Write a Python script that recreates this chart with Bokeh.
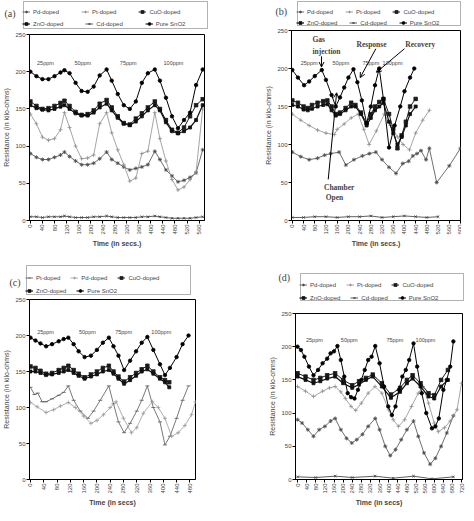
import math

from bokeh.plotting import figure
from bokeh.layouts import row, column
from bokeh.models import (Range1d, FixedTicker, Legend, LegendItem, Label,
                          Arrow, OpenHead, ColumnDataSource, BoxAnnotation)
from bokeh.embed import file_html
from bokeh.resources import INLINE

FONT = "Liberation Sans"
SERIF = "Liberation Serif"

# ---- shared ----
Y_TICKS = [0, 50, 100, 150, 200, 250]
PPM_LABELS = ["25ppm", "50ppm", "75ppm", "100ppm"]
Y_LABEL = "Resistance (in kilo-ohms)"

# ---- panel (a) ----
A_XTICKS = [0, 40, 80, 120, 160, 200, 240, 280, 320, 360, 400, 440, 480, 520, 560]
A_T = [0, 20, 40, 60, 80, 100, 113, 130, 150, 170, 190, 210, 230, 253, 270,
       290, 310, 330, 350, 370, 390, 413, 430, 450, 470, 490, 510, 530, 550, 572]
A_SNO2 = [200, 194, 190, 190, 194, 199, 202, 198, 185, 174, 173, 180, 195, 203, 188,
          170, 155, 150, 160, 185, 198, 203, 188, 165, 140, 124, 135, 145, 182, 203]
A_ZNO = [155, 151, 149, 148, 150, 153, 155, 150, 144, 141, 141, 145, 152, 157, 148,
         138, 130, 128, 133, 140, 148, 155, 148, 132, 120, 117, 120, 125, 135, 155]
A_CUO = [160, 154, 150, 151, 154, 158, 161, 154, 146, 142, 143, 148, 157, 162, 152,
         140, 131, 129, 137, 144, 152, 160, 150, 135, 122, 118, 125, 140, 155, 163]
A_PT = [143, 130, 112, 108, 110, 122, 145, 125, 100, 83, 84, 88, 130, 145, 118,
        95, 75, 53, 57, 90, 93, 145, 110, 80, 55, 41, 45, 55, 65, 150]
A_PD = [90, 85, 82, 82, 85, 88, 92, 86, 80, 75, 75, 77, 83, 92, 82,
        77, 72, 68, 70, 72, 75, 93, 82, 68, 60, 52, 54, 58, 64, 95]
A_CD = [5, 5, 4, 5, 5, 5, 6, 5, 4, 4, 4, 5, 5, 6, 5,
        4, 4, 4, 4, 5, 5, 6, 5, 4, 3, 3, 3, 3, 4, 5]

# ---- panel (b) ----
B_XTICKS = [0, 40, 80, 120, 160, 200, 240, 280, 320, 360, 400, 440, 480, 520, 560, 600]
B_SNO2_T = [0, 20, 42, 60, 80, 105, 120, 140, 155, 170, 185, 200, 218, 232, 248,
            265, 280, 295, 310, 325, 345, 365, 385, 400, 420, 435]
B_SNO2 = [198, 188, 178, 183, 190, 198, 185, 165, 150, 162, 175, 188, 199, 182, 158,
          128, 150, 178, 200, 160, 96, 125, 150, 170, 188, 200]
B_CL_T = [0, 20, 40, 55, 70, 90, 110, 125, 140, 155, 170, 190, 210, 225, 245,
          265, 280, 295, 310, 325, 345, 360, 375, 390, 405, 420, 440]
B_ZNO = [152, 150, 146, 145, 147, 150, 152, 153, 145, 138, 140, 145, 150, 150, 140,
         125, 135, 145, 150, 155, 130, 115, 100, 110, 125, 140, 150]
B_CUO = [158, 155, 150, 148, 152, 155, 157, 158, 150, 140, 142, 148, 155, 152, 142,
         128, 140, 150, 156, 160, 140, 120, 95, 112, 130, 150, 160]
B_PT_T = [0, 30, 60, 90, 120, 150, 160, 185, 210, 235, 255, 274, 300, 328, 350,
          375, 395, 418, 440, 465, 489]
B_PT = [140, 132, 125, 119, 115, 113, 120, 127, 135, 140, 120, 100, 118, 140, 125,
        110, 100, 93, 115, 132, 145]
B_PD_T = [0, 30, 60, 90, 115, 137, 167, 191, 220, 250, 275, 298, 320, 345, 370,
          394, 415, 430, 445, 459, 477, 489, 515, 560, 600]
B_PD = [90, 84, 80, 82, 86, 88, 90, 73, 80, 85, 88, 90, 80, 70, 62,
        75, 78, 85, 88, 92, 80, 95, 50, 72, 95]
B_CD_T = [0, 40, 80, 120, 160, 200, 240, 280, 320, 360, 400, 440, 480, 520]
B_CD = [4, 4, 5, 5, 4, 5, 5, 6, 4, 5, 6, 5, 4, 5]

# ---- panel (c) ----
C_XTICKS = [0, 40, 80, 120, 160, 200, 240, 280, 320, 360, 400, 440, 480]
C_T = [0, 15, 30, 47, 65, 85, 100, 114, 130, 145, 163, 182, 200, 218, 236,
       250, 265, 282, 300, 318, 335, 352, 370, 390, 405, 420, 440, 458, 476]
C_SNO2 = [197, 193, 189, 185, 188, 192, 195, 197, 188, 178, 170, 172, 180, 190, 197,
          185, 172, 152, 165, 178, 190, 198, 180, 160, 145, 155, 170, 188, 200]
C_CL_T = [0, 15, 30, 47, 65, 85, 100, 114, 130, 145, 163, 182, 200, 218, 236,
          250, 265, 282, 300, 318, 335, 352, 370, 390, 405, 418]
C_ZNO = [150, 150, 148, 145, 146, 148, 150, 152, 148, 144, 140, 143, 146, 150, 152,
         147, 140, 133, 138, 144, 150, 153, 147, 140, 135, 128]
C_CUO = [157, 155, 151, 147, 148, 152, 155, 158, 152, 147, 142, 146, 150, 155, 158,
         150, 143, 136, 142, 148, 153, 158, 150, 142, 138, 135]
C_PT_T = [0, 12, 22, 35, 47, 65, 85, 100, 114, 130, 150, 173, 190, 210, 236,
          250, 265, 282, 300, 320, 335, 352, 370, 390, 405, 420, 440, 458, 476]
C_PT = [128, 118, 120, 108, 108, 112, 117, 121, 130, 110, 95, 85, 95, 110, 130,
        105, 80, 65, 78, 95, 110, 130, 100, 80, 48, 60, 85, 110, 130]
C_PD_T = [0, 20, 47, 70, 90, 114, 135, 160, 182, 200, 220, 240, 258, 280, 304,
          320, 340, 367, 385, 405, 425, 445, 465, 485, 497]
C_PD = [107, 101, 93, 97, 102, 107, 100, 88, 78, 82, 90, 100, 108, 85, 65,
        72, 92, 108, 100, 85, 60, 65, 75, 90, 108]

# ---- panel (d) ----
D_XTICKS = [0, 40, 80, 120, 160, 200, 240, 280, 320, 360, 400, 440, 480, 520,
            560, 600, 640, 680, 720]
D_SNO2_T = [0, 15, 30, 50, 70, 90, 110, 130, 145, 160, 175, 190, 205, 220, 235,
            250, 265, 280, 295, 310, 325, 341, 360, 380, 398, 414, 430, 445, 460,
            475, 490, 509, 525, 545, 565, 590, 605, 620, 640, 655, 670, 684]
D_SNO2 = [200, 195, 185, 170, 157, 165, 175, 182, 190, 193, 201, 180, 155, 130, 124,
          122, 135, 150, 165, 180, 185, 201, 175, 140, 110, 97, 110, 135, 155,
          165, 180, 205, 170, 130, 100, 77, 80, 92, 135, 150, 170, 208]
D_CL_T = [0, 35, 70, 100, 130, 165, 200, 240, 270, 300, 330, 370, 410, 450, 480,
          505, 540, 575, 600, 630, 660]
D_ZNO = [155, 150, 145, 148, 152, 155, 145, 138, 143, 150, 155, 140, 123, 132, 145,
         152, 140, 125, 122, 140, 150]
D_CUO = [160, 155, 150, 153, 157, 160, 150, 142, 148, 153, 158, 145, 128, 138, 150,
         157, 145, 130, 127, 150, 165]
D_PT_T = [0, 35, 70, 110, 140, 165, 190, 210, 235, 255, 280, 310, 340, 370, 400,
          420, 443, 470, 500, 530, 550, 575, 600, 618, 645, 670, 700, 720]
D_PT = [140, 133, 125, 133, 138, 140, 132, 122, 110, 104, 115, 130, 140, 130, 105,
        90, 80, 90, 110, 130, 140, 115, 85, 72, 78, 88, 105, 145]
D_PD_T = [0, 20, 45, 70, 95, 120, 145, 165, 190, 215, 238, 260, 285, 310, 341,
          360, 385, 407, 430, 455, 480, 509, 530, 555, 582, 605, 630, 655, 684]
D_PD = [90, 85, 75, 65, 75, 80, 88, 92, 75, 62, 55, 60, 68, 80, 92,
        75, 50, 36, 45, 60, 75, 88, 65, 40, 23, 32, 50, 70, 96]
D_CD_T = [0, 80, 165, 240, 340, 420, 509, 590, 684]
D_CD = [4, 3, 5, 3, 5, 2, 5, 1, 4]

# color, marker, size, line width
STYLE = {
    "Pd-doped": ("#4a4a4a", "asterisk", 4, 0.8),
    "Pt-doped": ("#8e8e8e", "cross", 4, 0.8),
    "CuO-doped": ("#1a1a1a", "square_x", 3.5, 1.0),
    "ZnO-doped": ("#101010", "square", 3, 1.2),
    "Cd-doped": ("#333333", "x", 3.5, 0.8),
    "Pure SnO2": ("#000000", "circle", 3.5, 1.0),
}
STYLE_C = dict(STYLE)
STYLE_C["Pt-doped"] = ("#555555", "dash", 4, 0.8)
STYLE_C["Pd-doped"] = ("#9a9a9a", "cross", 4, 0.8)

HX = HY = -2000  # legend strips use a pixel-sized window far away from the data


def bare_fig(width, height, x0, y0):
    f = figure(width=width, height=height, x_range=Range1d(x0, x0 + width),
               y_range=Range1d(y0, y0 + height), min_border=0,
               x_axis_type=None, y_axis_type=None,
               output_backend="svg", toolbar_location=None)
    f.grid.visible = False
    f.outline_line_color = None
    return f


def draw_series(p, label, src, style):
    color, marker, size, lw = style[label]
    ln = p.line("t", "v", source=src, line_color=color, line_width=lw)
    sc = p.scatter("t", "v", source=src, marker=marker, size=size,
                   line_color=color, fill_color=color, line_width=0.8)
    return ln, sc


def make_header(tag, tag_w, leg_w, height, sources, rows_y, spacing, box, tag_xy,
                style=STYLE):
    # panel letter on the left, boxed two-row legend on the right
    t = bare_fig(tag_w, height, 0, 0)
    t.add_layout(Label(x=tag_xy[0], y=tag_xy[1], text=tag, text_font=SERIF,
                       text_font_size="10px", text_baseline="middle"))

    h = bare_fig(leg_w, height, HX, HY)
    items = []
    for label, src in sources:
        ln, sc = draw_series(h, label, src, style)
        items.append(LegendItem(label=label, renderers=[ln, sc]))
    for i, y in enumerate(rows_y):
        h.add_layout(Legend(items=items[i * 3:i * 3 + 3], orientation="horizontal",
                            location=(0, y), margin=0,
                            label_text_font=FONT, label_text_font_size="6px",
                            glyph_width=8, glyph_height=7, label_height=7,
                            label_standoff=3, spacing=spacing, padding=4,
                            border_line_color=None, background_fill_alpha=0))
    left, right, bottom, top = box
    h.add_layout(BoxAnnotation(left=HX + left, right=HX + right, bottom=HY + bottom,
                               top=HY + top, fill_alpha=0, line_color="black",
                               line_width=1))
    return row(t, h)


def make_panel(xr, xticks, xlabel, fw, fh, ml, mr, mt, mb, sources,
               ppm_x, ppm_y, style=STYLE):
    p = figure(frame_width=fw, frame_height=fh,
               x_range=Range1d(*xr), y_range=Range1d(0, 250),
               min_border_left=ml, min_border_right=mr,
               min_border_top=mt, min_border_bottom=mb,
               output_backend="svg", toolbar_location=None)
    p.grid.visible = False
    p.outline_line_color = "black"
    p.outline_line_width = 1

    p.xaxis.ticker = FixedTicker(ticks=xticks)
    p.yaxis.ticker = FixedTicker(ticks=Y_TICKS)
    p.xaxis.major_label_orientation = math.pi / 2
    p.xaxis.axis_label = xlabel
    p.yaxis.axis_label = Y_LABEL
    for ax in (p.xaxis[0], p.yaxis[0]):
        ax.major_label_text_font = FONT
        ax.major_label_text_font_size = "6px"
        ax.axis_label_text_font = FONT
        ax.axis_label_text_font_style = "normal"
        ax.major_tick_out = 3
        ax.major_tick_in = 0
        ax.minor_tick_out = 0
        ax.minor_tick_in = 0
        ax.major_label_standoff = 1
        ax.axis_label_standoff = 2
    p.xaxis.axis_label_text_font_size = "7px"
    p.xaxis.axis_label_text_font_style = "bold"
    p.yaxis.axis_label_text_font_size = "7px"

    for label, src in sources:
        draw_series(p, label, src, style)

    for txt, x in zip(PPM_LABELS, ppm_x):
        p.add_layout(Label(x=x, y=ppm_y, text=txt, text_font=FONT,
                           text_font_size="5.5px", text_baseline="middle"))
    return p


def make_sources(series):
    return [(label, ColumnDataSource(dict(t=t, v=v))) for label, t, v in series]


src_a = make_sources([("Pd-doped", A_T, A_PD), ("Pt-doped", A_T, A_PT),
                      ("CuO-doped", A_T, A_CUO), ("ZnO-doped", A_T, A_ZNO),
                      ("Cd-doped", A_T, A_CD), ("Pure SnO2", A_T, A_SNO2)])
src_b = make_sources([("Pd-doped", B_PD_T, B_PD), ("Pt-doped", B_PT_T, B_PT),
                      ("CuO-doped", B_CL_T, B_CUO), ("ZnO-doped", B_CL_T, B_ZNO),
                      ("Cd-doped", B_CD_T, B_CD), ("Pure SnO2", B_SNO2_T, B_SNO2)])
src_c = make_sources([("Pt-doped", C_PT_T, C_PT), ("Pd-doped", C_PD_T, C_PD),
                      ("CuO-doped", C_CL_T, C_CUO), ("ZnO-doped", C_CL_T, C_ZNO),
                      ("Pure SnO2", C_T, C_SNO2)])
src_d = make_sources([("Pd-doped", D_PD_T, D_PD), ("Pt-doped", D_PT_T, D_PT),
                      ("CuO-doped", D_CL_T, D_CUO), ("ZnO-doped", D_CL_T, D_ZNO),
                      ("Cd-doped", D_CD_T, D_CD), ("Pure SnO2", D_SNO2_T, D_SNO2)])

ha = make_header("(a)", 22, 207, 30, src_a, (15, 3), 22, (1, 185, 2, 29), (4, 17))
pa = make_panel((-3, 578), A_XTICKS, "Time (in secs.)",
                175, 186, 26, 28, 4, 32, src_a, [22, 146, 297, 442], 212)

hb = make_header("(b)", 64, 165, 26, src_b, (11, 0), 12, (1, 164, 1, 25), (43, 15))
pb = make_panel((-3, 600), B_XTICKS, "Time (in secs.)",
                169, 190, 59, 1, 4, 32, src_b, [30, 143, 250, 322], 207)

# annotations of panel (b)
for txt, x, y in [("Gas", 72, 238), ("injection", 72, 223), ("Response", 229, 232),
                  ("Recovery", 403, 232), ("Chamber", 113, 44), ("Open", 119, 30)]:
    pb.add_layout(Label(x=x, y=y, text=txt, text_font=SERIF, text_font_size="7.5px",
                        text_font_style="bold", text_baseline="middle"))
for x0, y0, x1, y1 in [(104, 216, 104, 202), (298, 226, 242, 188),
                       (400, 226, 300, 195), (128, 54, 158, 168)]:
    pb.add_layout(Arrow(x_start=x0, y_start=y0, x_end=x1, y_end=y1,
                        line_width=1, line_color="black",
                        end=OpenHead(size=5, line_width=1)))

hc = make_header("(c)", 25, 204, 43, src_c, (14, 1), 10, (1, 165, 1, 30), (9, 13),
                 style=STYLE_C)
pc = make_panel((-3, 497), C_XTICKS, "Time (in secs)",
                166, 180, 26, 37, 4, 26, src_c, [20, 146, 255, 364], 205, style=STYLE_C)

hd = make_header("(d)", 67, 167, 57, src_d, (21, 8), 10, (1, 164, 9, 36), (46, 32))
pd_ = make_panel((-9, 724), D_XTICKS, "Time (in secs)",
                 167, 166, 63, 4, 4, 26, src_d, [37, 190, 390, 518], 210)

layout = column(row(column(ha, pa), column(hb, pb)),
                row(column(hc, pc), column(hd, pd_)))
open("out.html", "w").write(file_html(layout, INLINE))
